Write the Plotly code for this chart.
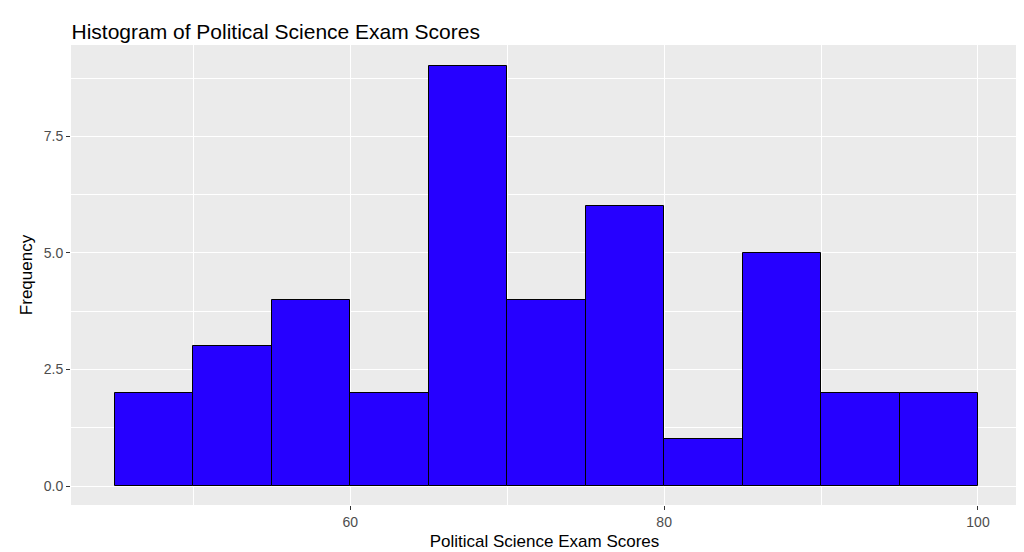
import plotly.graph_objects as go

bin_centers = [47.5, 52.5, 57.5, 62.5, 67.5, 72.5, 77.5, 82.5, 87.5, 92.5, 97.5]
counts = [2, 3, 4, 2, 9, 4, 6, 1, 5, 2, 2]
bin_width = 5

fig = go.Figure(go.Bar(
    x=bin_centers, y=counts, width=[bin_width]*len(counts),
    marker=dict(color="#2600FF", line=dict(color="black", width=1)),
))
fig.update_layout(
    width=1024, height=552,
    margin=dict(l=63, r=14, t=37, b=52),
    paper_bgcolor="white", plot_bgcolor="#EBEBEB",
    font=dict(family="Liberation Sans, Arial", color="black"),
    title=dict(text="Histogram of Political Science Exam Scores", x=0.062, xanchor="left",
               y=0.97, yanchor="top", font=dict(size=21, color="black")),
    showlegend=False, bargap=0,
)
axis_common = dict(showgrid=True, gridcolor="white", gridwidth=1.3, zeroline=False,
                   ticks="outside", ticklen=4, tickcolor="#333333",
                   tickfont=dict(size=14, color="#4D4D4D"), showline=False)
fig.update_xaxes(range=[42.2, 102.55], tickvals=[60, 80, 100],
                 minor=dict(tickvals=[50, 70, 90], showgrid=True, gridcolor="white", gridwidth=0.6, ticks=""),
                 title=dict(text="Political Science Exam Scores", font=dict(size=17), standoff=6), **axis_common)
fig.update_yaxes(range=[-0.405, 9.46], tickvals=[0, 2.5, 5, 7.5], ticktext=["0.0", "2.5", "5.0", "7.5"],
                 minor=dict(tickvals=[1.25, 3.75, 6.25, 8.75], showgrid=True, gridcolor="white", gridwidth=0.6, ticks=""),
                 title=dict(text="Frequency", font=dict(size=17), standoff=6), **axis_common)
fig.write_html("out.html")
